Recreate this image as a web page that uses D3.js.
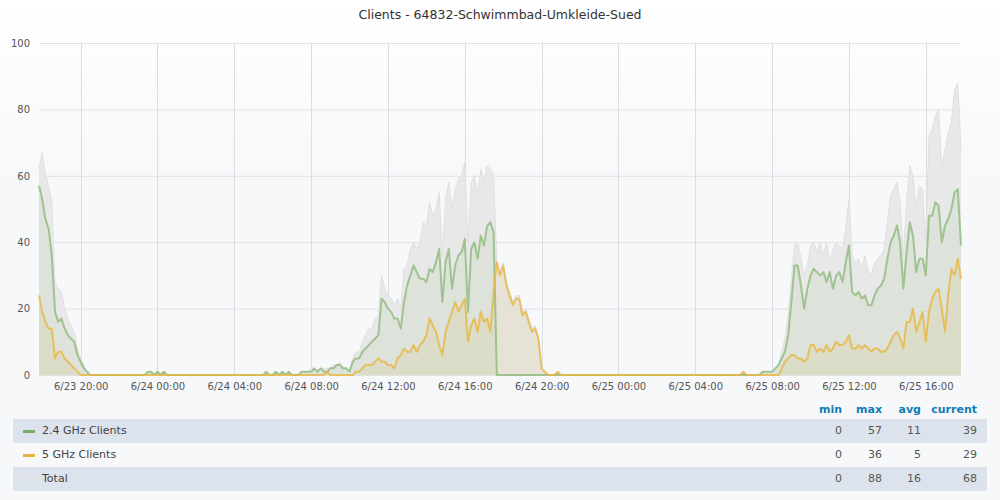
<!DOCTYPE html>
<html>
<head>
<meta charset="utf-8">
<script src="https://cdn.jsdelivr.net/npm/d3@7"></script>
<style>
  body { margin: 0; background: #f7f8fa; }
  svg { display: block; font-family: 'DejaVu Sans', sans-serif; }
</style>
</head>
<body>
<div id="wrapper"></div>
<script>
const chartTitle = 'Clients - 64832-Schwimmbad-Umkleide-Sued';
const startTime = '2023-06-23T17:50:00';
const stepMinutes = 10;

// 2.4 GHz clients, one value every 10 minutes
const clients24 = [
  57,53,47,44,36,19,16,17,14,12,11,10,
  6,4,2,1,0,0,0,0,0,0,0,0,
  0,0,0,0,0,0,0,0,0,0,1,1,
  0,1,0,1,0,0,0,0,0,0,0,0,
  0,0,0,0,0,0,0,0,0,0,0,0,
  0,0,0,0,0,0,0,0,0,0,0,1,
  0,0,1,0,1,0,1,0,0,0,1,1,
  1,1,2,1,2,1,1,2,2,3,3,2,
  2,1,4,5,5,7,8,9,10,11,12,23,
  22,20,19,17,17,14,22,27,30,33,31,29,
  29,28,32,31,34,38,22,34,38,26,33,36,
  37,41,19,38,40,35,42,39,45,46,43,0,
  0,0,0,0,0,0,0,0,0,0,0,0,
  0,0,0,0,0,0,0,0,0,0,0,0,
  0,0,0,0,0,0,0,0,0,0,0,0,
  0,0,0,0,0,0,0,0,0,0,0,0,
  0,0,0,0,0,0,0,0,0,0,0,0,
  0,0,0,0,0,0,0,0,0,0,0,0,
  0,0,0,0,0,0,0,0,0,0,1,1,
  1,1,2,3,5,7,12,22,33,33,27,20,
  26,30,32,31,30,31,28,31,26,30,31,28,
  34,39,25,24,25,23,24,21,21,24,26,27,
  29,35,40,42,45,40,26,37,46,42,31,35,
  35,30,48,48,52,51,40,45,47,50,55,56,
  39
];

// 5 GHz clients
const clients5 = [
  24,19,16,14,14,5,7,7,5,4,3,2,
  1,0,0,0,0,0,0,0,0,0,0,0,
  0,0,0,0,0,0,0,0,0,0,0,0,
  0,0,0,0,0,0,0,0,0,0,0,0,
  0,0,0,0,0,0,0,0,0,0,0,0,
  0,0,0,0,0,0,0,0,0,0,0,0,
  0,0,0,0,0,0,0,0,0,0,0,0,
  0,0,0,0,0,0,1,0,0,0,0,0,
  0,0,0,1,1,2,3,3,3,4,5,4,
  4,3,3,2,5,6,8,7,7,9,7,9,
  10,12,17,15,13,9,6,13,16,19,22,19,
  21,23,10,15,17,13,19,16,17,13,25,34,
  30,33,27,24,21,23,23,18,19,16,13,14,
  11,2,1,0,0,0,1,0,0,0,0,0,
  0,0,0,0,0,0,0,0,0,0,0,0,
  0,0,0,0,0,0,0,0,0,0,0,0,
  0,0,0,0,0,0,0,0,0,0,0,0,
  0,0,0,0,0,0,0,0,0,0,0,0,
  0,0,0,0,1,0,0,0,0,0,0,0,
  0,0,0,0,2,4,5,6,6,5,5,4,
  5,9,9,7,8,7,9,7,8,10,9,9,
  10,12,8,8,9,8,9,8,7,8,8,7,
  7,8,10,12,13,11,8,16,16,20,13,16,
  19,10,19,23,25,26,20,13,24,32,30,35,
  29
];

// Total clients
const clientsTotal = [
  62,67,60,57,52,28,26,25,20,17,15,13,
  8,5,3,1,0,0,0,0,0,0,0,0,
  0,0,0,0,0,0,0,0,0,0,1,1,
  0,1,0,1,0,0,0,0,0,0,0,0,
  0,0,0,0,0,0,0,0,0,0,0,0,
  0,0,0,0,0,0,0,0,0,0,0,1,
  0,0,1,0,1,0,1,0,0,0,1,1,
  1,2,2,1,2,2,2,2,3,3,4,2,
  2,1,5,7,7,10,12,14,14,17,18,30,
  26,24,23,21,23,20,32,33,38,40,38,40,
  46,45,52,48,50,55,36,53,58,50,56,59,
  60,64,40,58,60,54,62,58,63,62,60,34,
  31,34,28,25,22,24,24,19,20,17,14,15,
  11,2,1,0,0,0,1,0,0,0,0,0,
  0,0,0,0,0,0,0,0,0,0,0,0,
  0,0,0,0,0,0,0,0,0,0,0,0,
  0,0,0,0,0,0,0,0,0,0,0,0,
  0,0,0,0,0,0,0,0,0,0,0,0,
  0,0,0,0,1,0,0,0,0,0,1,1,
  1,1,2,3,7,11,18,29,39,40,35,30,
  33,39,40,37,40,36,40,34,38,40,39,38,
  44,53,36,34,35,32,36,31,30,34,35,36,
  38,46,54,56,58,52,36,52,63,60,50,57,
  56,40,72,74,78,80,62,68,73,76,86,88,
  68
];

const seriesNames = ['2.4 GHz Clients', '5 GHz Clients', 'Total'];
const statNames = ['min', 'max', 'avg', 'current'];
const stats24 = [0, 57, 11, 39];
const stats5 = [0, 36, 5, 29];
const statsTotal = [0, 88, 16, 68];
const yTicks = [0, 20, 40, 60, 80, 100];

function drawChart() {
    // 1. Dimensions
    const dimensions = {
        width: 1000,
        height: 500,
        margin: { top: 43, right: 39, bottom: 125, left: 39 },
    };
    dimensions.boundedWidth = dimensions.width - dimensions.margin.left - dimensions.margin.right;
    dimensions.boundedHeight = dimensions.height - dimensions.margin.top - dimensions.margin.bottom;

    const start = new Date(startTime);
    const data = clients24.map((v, i) => ({
        time: d3.timeMinute.offset(start, i * stepMinutes),
        g24: v,
        g5: clients5[i],
        total: clientsTotal[i],
    }));

    // 2. Canvas
    const wrapper = d3.select('#wrapper')
        .append('svg')
        .attr('width', dimensions.width)
        .attr('height', dimensions.height);

    const defs = wrapper.append('defs');
    const bg = defs.append('linearGradient')
        .attr('id', 'bg')
        .attr('x1', '0%').attr('y1', '0%')
        .attr('x2', '0%').attr('y2', '35%');
    bg.append('stop').attr('offset', '0%').attr('stop-color', '#ffffff');
    bg.append('stop').attr('offset', '100%').attr('stop-color', '#f7f8fa');

    wrapper.append('rect')
        .attr('width', dimensions.width)
        .attr('height', dimensions.height)
        .attr('fill', 'url(#bg)');

    wrapper.append('text')
        .attr('x', dimensions.width / 2)
        .attr('y', 19)
        .attr('text-anchor', 'middle')
        .attr('font-size', '12.5px')
        .attr('fill', '#333')
        .text(chartTitle);

    const bounds = wrapper.append('g')
        .attr('transform', `translate(${dimensions.margin.left},${dimensions.margin.top})`);

    // 3. Scales
    const xScale = d3.scaleTime()
        .domain(d3.extent(data, d => d.time))
        .range([0, dimensions.boundedWidth]);

    const yScale = d3.scaleLinear()
        .domain([0, 100])
        .range([dimensions.boundedHeight, 0]);

    // grid
    const xTicks = xScale.ticks(d3.timeHour.every(4));
    bounds.append('g').selectAll('line')
        .data(yTicks)
        .join('line')
        .attr('x1', 0)
        .attr('x2', dimensions.boundedWidth)
        .attr('y1', d => yScale(d) + 0.5)
        .attr('y2', d => yScale(d) + 0.5)
        .attr('stroke', '#e0e1e4');

    bounds.append('g').selectAll('line')
        .data(xTicks)
        .join('line')
        .attr('x1', d => Math.round(xScale(d)) + 0.5)
        .attr('x2', d => Math.round(xScale(d)) + 0.5)
        .attr('y1', 0)
        .attr('y2', dimensions.boundedHeight)
        .attr('stroke', '#dcdde0');

    // 4. Data
    const area = key => d3.area()
        .x(d => xScale(d.time))
        .y0(yScale(0))
        .y1(d => yScale(d[key]));
    const line = key => d3.line()
        .x(d => xScale(d.time))
        .y(d => yScale(d[key]));

    bounds.append('path')
        .attr('d', area('total')(data))
        .attr('fill', '#e8e8e8');
    bounds.append('path')
        .attr('d', line('total')(data))
        .attr('fill', 'none')
        .attr('stroke', '#e0e0e0')
        .attr('stroke-width', 1);

    bounds.append('path')
        .attr('d', area('g24')(data))
        .attr('fill', '#8fbc7a')
        .attr('fill-opacity', 0.13);
    bounds.append('path')
        .attr('d', area('g5')(data))
        .attr('fill', '#d9c060')
        .attr('fill-opacity', 0.14);

    bounds.append('path')
        .attr('d', line('g24')(data))
        .attr('fill', 'none')
        .attr('stroke', '#8fba7c')
        .attr('stroke-opacity', 0.8)
        .attr('stroke-width', 2)
        .attr('stroke-linejoin', 'round');
    bounds.append('path')
        .attr('d', line('g5')(data))
        .attr('fill', 'none')
        .attr('stroke', '#e9b740')
        .attr('stroke-opacity', 0.8)
        .attr('stroke-width', 2)
        .attr('stroke-linejoin', 'round');

    // 5. Axes
    const yAxis = bounds.append('g')
        .call(d3.axisLeft(yScale).tickValues(yTicks).tickSize(0).tickPadding(9));
    yAxis.select('.domain').remove();
    yAxis.selectAll('text')
        .attr('font-size', '10px')
        .attr('font-family', 'DejaVu Sans')
        .attr('fill', '#555');

    const xAxis = bounds.append('g')
        .attr('transform', `translate(0,${dimensions.boundedHeight})`)
        .call(d3.axisBottom(xScale)
            .tickValues(xTicks)
            .tickSize(0)
            .tickPadding(8)
            .tickFormat(d3.timeFormat('%-m/%-d %H:%M')));
    xAxis.select('.domain').remove();
    xAxis.selectAll('text')
        .attr('font-size', '10px')
        .attr('font-family', 'DejaVu Sans')
        .attr('fill', '#555');

    // 6. Legend table
    const rowTop = 419;
    const rowHeight = 24;
    const statX = [842, 882, 921, 977];
    const legendColors = ['#7aae66', '#e8b43c', '#e2e2e4'];
    const legendStats = [stats24, stats5, statsTotal];

    wrapper.append('g').selectAll('text')
        .data(statNames)
        .join('text')
        .attr('x', (d, i) => statX[i])
        .attr('y', 413)
        .attr('text-anchor', 'end')
        .attr('font-size', '11px')
        .attr('font-weight', 'bold')
        .attr('fill', '#0f7db3')
        .text(d => d);

    const rows = wrapper.append('g').selectAll('g')
        .data(seriesNames)
        .join('g')
        .attr('transform', (d, i) => `translate(0,${rowTop + i * rowHeight})`);

    rows.append('rect')
        .attr('x', 13)
        .attr('width', 974)
        .attr('height', rowHeight)
        .attr('fill', (d, i) => i % 2 === 0 ? '#dde3ec' : '#f7f8fa');

    rows.append('rect')
        .attr('x', 23)
        .attr('y', 11)
        .attr('width', 12)
        .attr('height', 3)
        .attr('fill', (d, i) => legendColors[i]);

    rows.append('text')
        .attr('x', 42)
        .attr('y', 15)
        .attr('font-size', '11px')
        .attr('fill', '#444')
        .text(d => d);

    rows.each(function(d, i) {
        d3.select(this).selectAll('.stat')
            .data(legendStats[i])
            .join('text')
            .attr('class', 'stat')
            .attr('x', (v, j) => statX[j])
            .attr('y', 15)
            .attr('text-anchor', 'end')
            .attr('font-size', '11px')
            .attr('fill', '#555')
            .text(v => v);
    });
}

drawChart();
</script>
</body>
</html>
